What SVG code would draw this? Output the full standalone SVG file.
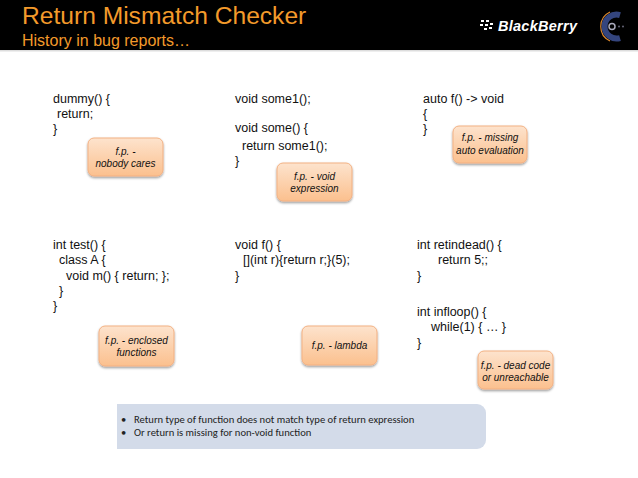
<svg xmlns="http://www.w3.org/2000/svg" width="638" height="478" viewBox="0 0 638 478">
<style>
.c{font-family:"Liberation Sans",Arial,sans-serif;font-size:12.5px;fill:#111}
.n{font-family:"Liberation Sans",Arial,sans-serif;font-size:10px;font-style:italic;fill:#111;text-anchor:middle}
.b{fill:url(#o);stroke:#f3b183;stroke-width:1;filter:url(#s)}
.t{font-family:"Liberation Sans",Arial,sans-serif;fill:#f39a2b}
.l{font-family:Carlito,"Open Sans",sans-serif;font-size:10.6px;fill:#222}
</style>
<defs>
<linearGradient id="o" x1="0" y1="0" x2="0" y2="1"><stop offset="0" stop-color="#fde3cd"/><stop offset="1" stop-color="#fbc08e"/></linearGradient>
<filter id="s" x="-15%" y="-20%" width="130%" height="150%"><feDropShadow dx="0" dy="1.5" stdDeviation="1.3" flood-color="#000" flood-opacity=".4"/></filter>
</defs>
<rect width="638" height="478" fill="#fff"/>
<g id="header">
<rect width="638" height="50" fill="#000"/>
<rect y="50" width="638" height="1.5" fill="#ddd"/>
<text class="t" x="22" y="24" font-size="24.6">Return Mismatch Checker</text>
<text class="t" x="22" y="46" font-size="16">History in bug reports…</text>
<g fill="#fff"><rect x="481" y="20" width="3" height="2"/><rect x="486" y="20" width="3" height="2"/><rect x="480" y="24" width="3" height="2"/><rect x="485" y="24" width="3" height="2"/><rect x="490" y="23" width="3" height="2"/><rect x="484" y="28" width="3" height="2"/><rect x="489" y="27" width="3" height="2"/></g>
<text x="498" y="31" font-family="'Liberation Sans',sans-serif" font-size="14.5" font-weight="bold" font-style="italic" fill="#fff" textLength="79">BlackBerry</text>
<path d="M610 12A16 16 0 0 0 610 41" fill="none" stroke="#e08a2a" stroke-width="1.2"/>
<path d="M620 15A12 12 0 1 0 620 38" fill="none" stroke="#34457e" stroke-width="6"/>
<circle cx="612" cy="26.500" r="3" fill="none" stroke="#aab" stroke-width="1.500"/>
<g fill="#667"><circle cx="619" cy="26.500" r="1"/><circle cx="623" cy="26.500" r="1"/></g>
</g>
<g id="code-1"><text class="c" x="53" y="103">dummy() {</text><text class="c" x="57" y="118">return;</text><text class="c" x="53" y="133">}</text></g>
<g id="code-2"><text class="c" x="235" y="103">void some1();</text><text class="c" x="235" y="132">void some() {</text><text class="c" x="242" y="150">return some1();</text><text class="c" x="235" y="165">}</text></g>
<g id="code-3"><text class="c" x="423" y="103">auto f() -&gt; void</text><text class="c" x="423" y="118">{</text><text class="c" x="423" y="133">}</text></g>
<g id="code-4"><text class="c" x="53" y="249">int test() {</text><text class="c" x="59" y="264">class A {</text><text class="c" x="66" y="280">void m() { return; };</text><text class="c" x="59" y="295">}</text><text class="c" x="53" y="310">}</text></g>
<g id="code-5"><text class="c" x="235" y="249">void f() {</text><text class="c" x="243" y="264">[](int r){return r;}(5);</text><text class="c" x="235" y="280">}</text></g>
<g id="code-6"><text class="c" x="417" y="249">int retindead() {</text><text class="c" x="438" y="264">return 5;;</text><text class="c" x="417" y="280">}</text><text class="c" x="417" y="316">int infloop() {</text><text class="c" x="431" y="331">while(1) { … }</text><text class="c" x="417" y="347">}</text></g>
<g id="note-1"><rect class="b" x="88" y="138" width="75" height="38" rx="6"/><text class="n" x="125.500" y="155">f.p. -</text><text class="n" x="125.500" y="167">nobody cares</text></g>
<g id="note-2"><rect class="b" x="277" y="163" width="75" height="38" rx="6"/><text class="n" x="314.500" y="180">f.p. - void</text><text class="n" x="314.500" y="192">expression</text></g>
<g id="note-3"><rect class="b" x="453" y="126" width="74" height="37" rx="6"/><text class="n" x="490" y="141">f.p. - missing</text><text class="n" x="490" y="154">auto evaluation</text></g>
<g id="note-4"><rect class="b" x="99" y="326" width="75" height="40" rx="6"/><text class="n" x="136.500" y="344">f.p. - enclosed</text><text class="n" x="136.500" y="356">functions</text></g>
<g id="note-5"><rect class="b" x="302" y="326" width="75" height="39" rx="6"/><text class="n" x="339.500" y="349">f.p. - lambda</text></g>
<g id="note-6"><rect class="b" x="478" y="351" width="75" height="38" rx="6"/><text class="n" x="515.500" y="369">f.p. - dead code</text><text class="n" x="515.500" y="381">or unreachable</text></g>
<g id="summary"><path d="M117 404H477a9 9 0 0 1 9 9V440a9 9 0 0 1-9 9H117Z" fill="#d3dbe9"/>
<text class="l" x="121" y="423">•</text><text class="l" x="134" y="423">Return type of function does not match type of return expression</text>
<text class="l" x="121" y="436">•</text><text class="l" x="134" y="436">Or return is missing for non-void function</text></g>
<g id="connectors"/>
</svg>
